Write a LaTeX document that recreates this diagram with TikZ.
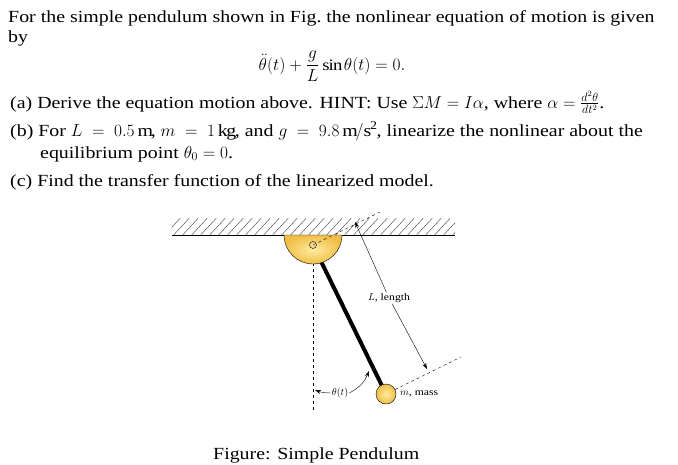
\documentclass[tikz,border=0pt]{standalone}
\usepackage{fontspec}
\usepackage{amsmath}
\setmainfont{Liberation Serif}[FakeStretch=1.17]
\usetikzlibrary{arrows.meta}
\definecolor{gold}{RGB}{240,190,70}
\definecolor{goldlight}{RGB}{255,235,160}
\tikzset{
  txt/.style={anchor=base west,inner sep=0pt,font=\fontsize{17}{20}\selectfont},
  lbl/.style={inner sep=1pt,font=\fontsize{10}{12}\selectfont},
  dim/.style={-{Stealth[length=6pt,width=4pt]},thin},
  ext/.style={dashed,thin}
}
\begin{document}
\begin{tikzpicture}[x=1pt,y=-1pt]
\useasboundingbox (0,0) rectangle (678,464);
% text
\node[txt] (l1) at (8,22) {For the simple pendulum shown in Fig.\ the nonlinear equation of motion is given};
\node[txt] (l2) at (8,42) {by};
\node[anchor=base,inner sep=0pt,font=\fontsize{16}{20}\selectfont] (eq) at (332,70) {$\ddot\theta(t)+\dfrac{g}{L}\sin\theta(t)=0.$};
\node[txt] (pa) at (10,108) {(a) Derive the equation motion above. HINT: Use $\Sigma M=I\alpha$, where $\alpha=\frac{d^2\theta}{dt^2}$.};
\node[txt] (pb) at (10,136) {(b) For $L\;=\;0.5\,\mathrm{m}$, $m\;=\;1\,\mathrm{kg}$, and $g\;=\;9.8\,\mathrm{m/s^2}$, linearize the nonlinear about the};
\node[txt] (pb2) at (40,158) {equilibrium point $\theta_0=0$.};
\node[txt] (pc) at (10,186) {(c) Find the transfer function of the linearized model.};
\node[txt] (cap) at (213,459) {Figure: Simple Pendulum};
% ceiling
\begin{scope}
\clip (172,218) rectangle (455,235);
\foreach \i in {0,9,...,300} \draw[thin,black!75] (160+\i,240) -- (185+\i,213);
\end{scope}
\draw (172,235) -- (455,235);
\coordinate (P) at (313,245);
\coordinate (M) at (386,394);
\draw[ext] (P) -- (313,412);
\draw[line width=4pt] (P) -- (M);
% pivot half-disk
\shade[inner color=goldlight,outer color=gold,draw=black,thin] (284,235) arc (180:0:29) -- cycle;
\draw[thin,fill=gold!60] (P) circle (3.5);
\node[draw,thin,circle,minimum size=20pt,inner sep=0pt,inner color=goldlight,outer color=gold] (mass) at (M) {};
% extension lines
\coordinate (E1) at (380,212);
\coordinate (E2) at (461,357);
\draw[ext] (P) -- (E1);
\draw[ext] (mass) -- (E2);
% length dimension
\coordinate (D1) at (355,222);
\coordinate (D2) at (427,369);
\node[lbl,fill=white] (Lab) at (389,298) {$L$, length};
\draw[dim] (Lab) -- (D1);
\draw[dim] (Lab) -- (D2);
% angle
\node[lbl] (th) at (340,393) {$\theta(t)$};
\coordinate (A1) at (315,390);
\coordinate (A2) at (369,371);
\draw[dim] (th.west) to[bend left=10] (A1);
\draw[dim] (th.east) to[bend right=20] (A2);
\node[lbl,anchor=west] (ml) at (399,394) {$m$, mass};
\end{tikzpicture}
\end{document}
